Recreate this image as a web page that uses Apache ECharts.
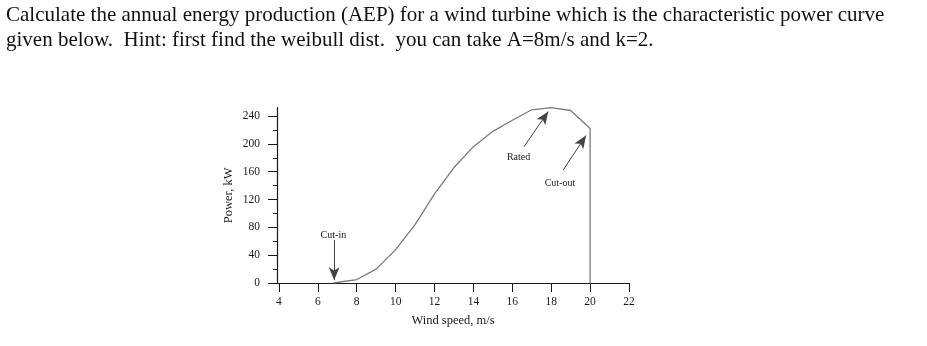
<!DOCTYPE html>
<html>
<head>
<meta charset="utf-8">
<script src="https://cdn.jsdelivr.net/npm/echarts@6/dist/echarts.min.js"></script>
<style>
  html, body { margin: 0; padding: 0; background: #fff; }
  #chart { width: 927px; height: 346px; }
</style>
</head>
<body>
<div id="chart"></div>
<script>
// Characteristic power curve of the turbine (wind speed in m/s, power in kW)
const windSpeed = [6.8, 8, 9, 10, 11, 12, 13, 14, 15, 16, 17, 18, 19, 20, 20];
const power     = [0, 5, 20, 48, 84, 128, 166, 196, 218, 234, 249, 252, 248, 222, 0];

// Axis ticks
const xTicks = [4, 6, 8, 10, 12, 14, 16, 18, 20, 22];
const yTicks = [0, 40, 80, 120, 160, 200, 240];
const yMinorTicks = [20, 60, 100, 140, 180, 220];

// Question text above the chart
const questionLines = [
  'Calculate the annual energy production (AEP) for a wind turbine which is the characteristic power curve',
  'given below.  Hint: first find the weibull dist.  you can take A=8m/s and k=2.'
];

// Callouts on the curve: label, label anchor, arrow tail, arrow head
const callouts = [
  { text: 'Cut-in',  at: [6.8, 69],      from: [6.84, 62],    to: [6.84, 4] },
  { text: 'Rated',   at: [16.32, 181],   from: [16.6, 196],   to: [17.85, 246.5] },
  { text: 'Cut-out', at: [18.45, 143.5], from: [18.62, 162.6], to: [19.79, 212] }
];

const serif = '"Liberation Serif", "Times New Roman", serif';
const ink = '#1a1a1a';

const chart = echarts.init(document.getElementById('chart'), null, { renderer: 'canvas' });

const pairs = windSpeed.map((v, i) => [v, power[i]]);

chart.setOption({
  backgroundColor: '#ffffff',
  animation: false,
  graphic: questionLines.map((t, i) => ({
    type: 'text',
    left: 6,
    top: i === 0 ? 5 : 29.5,
    style: { text: t, font: '21px ' + serif, fill: '#111' }
  })),
  grid: { left: 277, right: 298, top: 107.7, bottom: 63, containLabel: false },
  xAxis: {
    type: 'value',
    min: 3.9,
    max: 22,
    name: 'Wind speed, m/s',
    nameLocation: 'middle',
    nameGap: 31,
    nameTextStyle: { fontFamily: serif, fontSize: 12.5, color: ink },
    axisLine: { show: true, lineStyle: { color: ink, width: 1.2 } },
    axisTick: { show: true, customValues: xTicks, length: 9, lineStyle: { color: ink, width: 1 } },
    axisLabel: { customValues: xTicks, margin: 13, fontFamily: serif, fontSize: 11.5, color: ink },
    splitLine: { show: false }
  },
  yAxis: [{
    type: 'value',
    min: 0,
    max: 252,
    name: 'Power, kW',
    nameLocation: 'middle',
    nameGap: 42,
    nameRotate: 90,
    nameTextStyle: { fontFamily: serif, fontSize: 12.5, color: ink },
    axisLine: { show: true, lineStyle: { color: ink, width: 1.2 } },
    axisTick: { show: true, customValues: yTicks, length: 9, lineStyle: { color: ink, width: 1 } },
    axisLabel: { customValues: yTicks, margin: 17, fontFamily: serif, fontSize: 11.5, color: ink },
    splitLine: { show: false }
  }, {
    // short intermediate ticks on the power axis
    type: 'value',
    position: 'left',
    min: 0,
    max: 252,
    axisLine: { show: false },
    axisTick: { show: true, customValues: yMinorTicks, length: 4, lineStyle: { color: ink, width: 1 } },
    axisLabel: { show: false },
    splitLine: { show: false }
  }],
  series: [{
    type: 'line',
    data: pairs,
    showSymbol: false,
    symbol: 'none',
    lineStyle: { color: '#7a7a7a', width: 1.3 },
    z: 3,
    markLine: {
      silent: true,
      symbol: ['none', 'arrow'],
      symbolSize: [8, 13],
      label: { show: false },
      lineStyle: { color: '#444', width: 1, type: 'solid' },
      itemStyle: { color: '#111' },
      data: callouts.map(c => [
        { coord: c.from, symbol: 'none' },
        { coord: c.to, symbol: 'arrow' }
      ])
    },
    markPoint: {
      silent: true,
      symbol: 'rect',
      symbolSize: 0.01,
      label: {
        show: true,
        position: 'inside',
        fontFamily: serif,
        fontSize: 10,
        color: ink,
        formatter: p => p.name
      },
      data: callouts.map(c => ({ name: c.text, coord: c.at }))
    }
  }]
});
</script>
</body>
</html>
